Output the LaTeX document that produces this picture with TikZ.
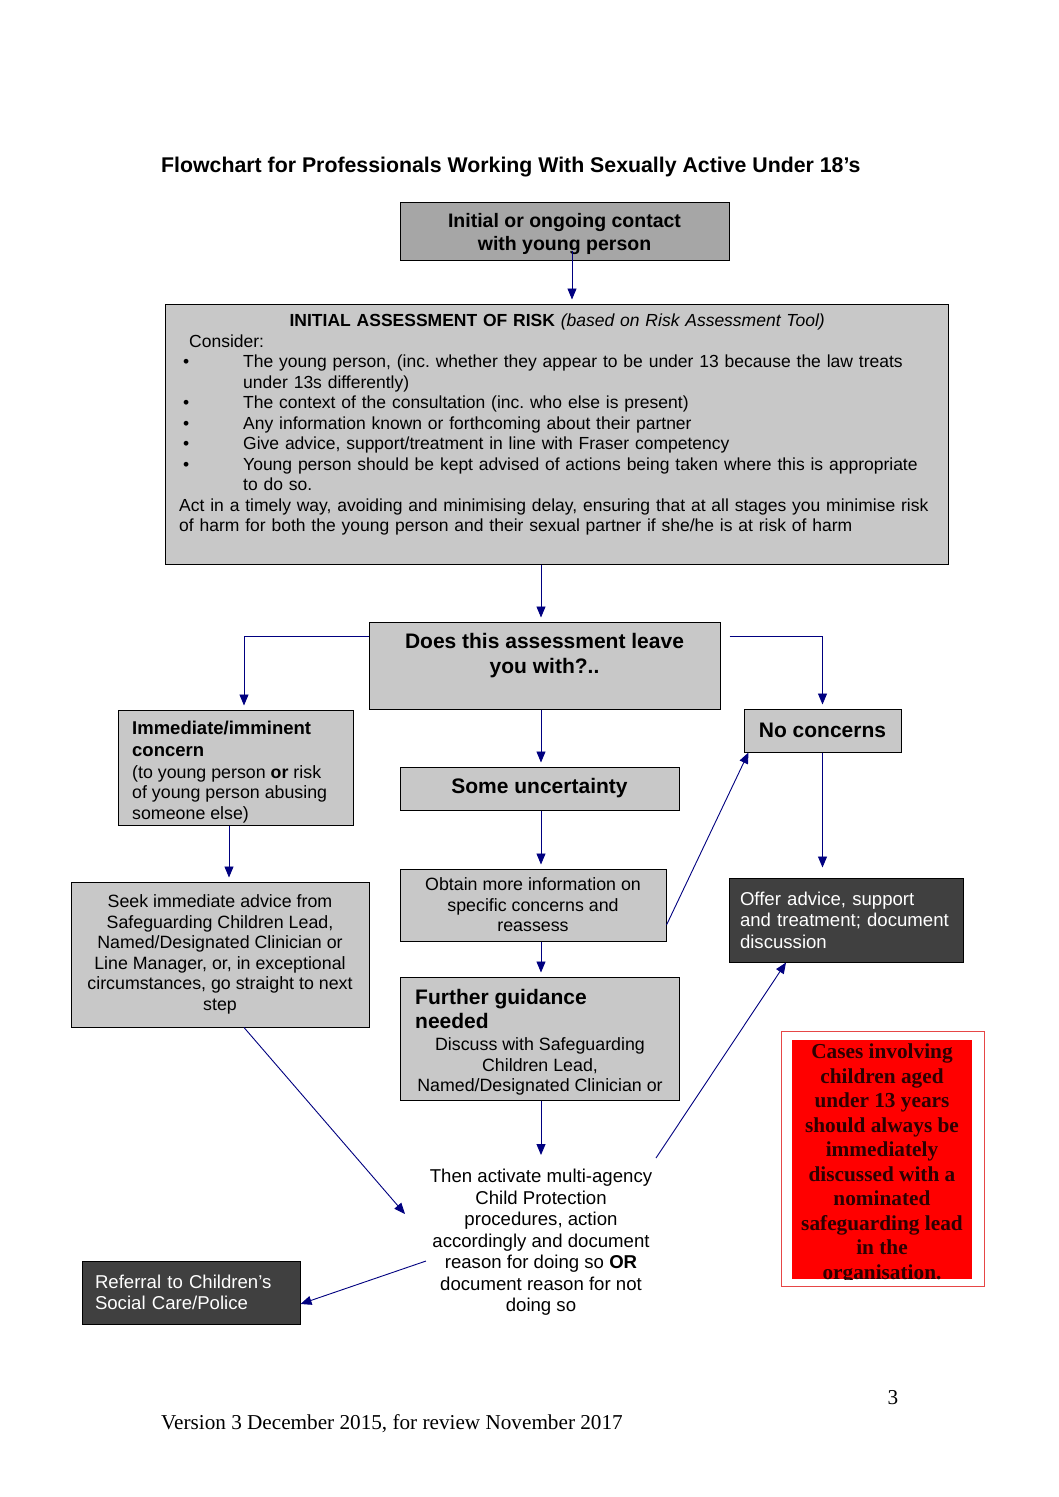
\documentclass[tikz,border=0pt]{standalone}
\usepackage{fontspec}
\setmainfont{Liberation Sans}
\newfontfamily\timesfont{Liberation Serif}
\usetikzlibrary{calc,positioning,arrows.meta}

\definecolor{boxgrey}{RGB}{200,200,200}
\definecolor{topgrey}{RGB}{166,166,166}
\definecolor{darkbox}{RGB}{64,64,64}
\definecolor{arrowblue}{RGB}{0,0,128}
\definecolor{alertred}{RGB}{255,0,0}
\definecolor{alertedge}{RGB}{230,70,70}
\definecolor{alerttext}{RGB}{45,0,0}

\newcommand{\bodysize}{\fontsize{17.8}{20.5}\selectfont}
\newcommand{\midsize}{\fontsize{18.6}{21.5}\selectfont}
\newcommand{\headsize}{\fontsize{21}{24.5}\selectfont\bfseries}
\frenchspacing

\begin{document}
\begin{tikzpicture}[x=1pt, y=-1pt, txt/.style={inner sep=0pt}, flow/.style={draw=arrowblue, line width=0.9pt, -{Triangle[width=9pt,length=11pt]}}]
\tikzstyle{greybox}=[draw, fill=boxgrey, line width=1pt, inner sep=0pt]
\tikzstyle{darkgrey}=[draw, fill=darkbox, line width=1pt, inner sep=0pt, text=white]
\useasboundingbox (0,0) rectangle (1058,1497);
\fill[white] (0,0) rectangle (1058,1497);

\node[txt, anchor=base west, font=\fontsize{21.3}{24}\selectfont\bfseries] (title) at (161,172) {Flowchart for Professionals Working With Sexually Active Under 18’s};

\node[greybox, fill=topgrey, minimum width=329pt, minimum height=58pt] (contact) at (564.5,231) {};
\node[txt, align=center, font=\fontsize{19.5}{23}\selectfont\bfseries] (contacttxt) at (564.5,233.5) {Initial or ongoing contact\\with young person};

\node[greybox, minimum width=783pt, minimum height=260pt] (assess) at (556.5,434) {};
\node[txt, anchor=north west, text width=770pt, align=left, font=\fontsize{17.5}{20.5}\selectfont] (assesstxt) at (179,314) {%
\makebox[756pt]{\textbf{INITIAL ASSESSMENT OF RISK} \textit{(based on Risk Assessment Tool)}}\\
\hspace*{10pt}Consider:\\
\makebox[64pt][l]{\hspace{4pt}\textbullet}The young person, (inc. whether they appear to be under 13 because the law treats\\
\hspace*{64pt}under 13s differently)\\
\makebox[64pt][l]{\hspace{4pt}\textbullet}The context of the consultation (inc. who else is present)\\
\makebox[64pt][l]{\hspace{4pt}\textbullet}Any information known or forthcoming about their partner\\
\makebox[64pt][l]{\hspace{4pt}\textbullet}Give advice, support/treatment in line with Fraser competency\\
\makebox[64pt][l]{\hspace{4pt}\textbullet}Young person should be kept advised of actions being taken where this is appropriate\\
\hspace*{64pt}to do so.\\
Act in a timely way, avoiding and minimising delay, ensuring that at all stages you minimise risk\\
of harm for both the young person and their sexual partner if she/he is at risk of harm};

\node[greybox, minimum width=351pt, minimum height=87pt] (query) at (544.5,665.5) {};
\node[txt, align=center, font=\headsize] (querytxt) at (544.5,655.5) {Does this assessment leave\\you with?..};

\node[greybox, minimum width=235pt, minimum height=115pt] (urgent) at (235.5,767.5) {};
\node[txt, anchor=north west, align=left, font=\fontsize{18.5}{22}\selectfont\bfseries] (urgenthead) at (132,721) {Immediate/imminent\\concern};
\node[txt, anchor=north west, align=left, font=\bodysize] (urgenttxt) at (132,765) {(to young person \textbf{or} risk\\of young person abusing\\someone else)};

\node[greybox, minimum width=157pt, minimum height=43pt, font=\headsize] (noworry) at (822.5,730.5) {No concerns};
\node[greybox, minimum width=279pt, minimum height=43pt, font=\headsize] (unsure) at (539.5,788.5) {Some uncertainty};
\node[greybox, minimum width=266pt, minimum height=72pt, align=center, font=\bodysize] (moreinfo) at (533,905) {Obtain more information on\\specific concerns and\\reassess};
\node[greybox, minimum width=298pt, minimum height=145pt, align=center, font=\bodysize] (seek) at (220,954.5) {Seek immediate advice from\\Safeguarding Children Lead,\\Named/Designated Clinician or\\Line Manager, or, in exceptional\\circumstances, go straight to next\\step};

\node[greybox, minimum width=279pt, minimum height=123pt] (guidance) at (539.5,1038.5) {};
\node[txt, anchor=north west, align=left, font=\headsize] (guidancehead) at (415,989) {Further guidance\\needed};
\node[txt, anchor=north, align=center, font=\bodysize] (guidancetxt) at (540,1037.5) {Discuss with Safeguarding\\Children Lead,\\Named/Designated Clinician or};

\node[txt, anchor=north, align=center, font=\midsize] (activate) at (541,1169) {Then activate multi-agency\\Child Protection\\procedures, action\\accordingly and document\\reason for doing so \textbf{OR}\\document reason for not\\doing so};

\node[darkgrey, minimum width=234pt, minimum height=84pt, text width=212pt, align=left, font=\midsize] (offer) at (846,920) {Offer advice, support\\and treatment; document\\discussion};
\node[darkgrey, minimum width=218pt, minimum height=63pt, text width=192pt, align=left, font=\midsize] (referral) at (191,1292.5) {Referral to Children’s\\Social Care/Police};

\node[draw=alertedge, line width=1pt, minimum width=203pt, minimum height=255pt] (alertframe) at (882.5,1158.5) {};
\fill[alertred] (792,1040) rectangle (972,1279);
\begin{scope}
\clip (792,1040) rectangle (972,1279);
\node[txt, anchor=north, align=center, text=alerttext, font=\timesfont\fontsize{21.3}{24.5}\selectfont\bfseries] (undertext) at (882,1044) {Cases involving\\children aged\\under 13 years\\should always be\\immediately\\discussed with a\\nominated\\safeguarding lead\\in the\\organisation.};
\end{scope}

\node[txt, anchor=base west, font=\timesfont\fontsize{21.2}{25}\selectfont] (version) at (161,1429) {Version 3 December 2015, for review November 2017};
\node[txt, anchor=base, font=\timesfont\fontsize{21.2}{25}\selectfont] (pagenum) at (893,1404) {3};

\coordinate (midline) at (541,0);
\coordinate (c1) at ([xshift=7.5pt,yshift=10pt]contact.south);
\coordinate (qleft) at ([yshift=29.5pt]query.west);
\coordinate (qright) at ([shift={(9pt,29.5pt)}]query.east);
\coordinate (u1) at ([xshift=-6.5pt]urgent.south);
\coordinate (seekend) at (405,1214);
\coordinate (actright) at (656,1158);
\coordinate (actleft) at (426,1261);

\draw[flow, shorten >=4pt] (c1) -- (c1 |- assess.north);
\foreach \i/\j in {assess/query,query/unsure,unsure/moreinfo,moreinfo/guidance}{\draw[flow, shorten >=4pt] (\i.south -| midline) -- (\j.north -| midline);}
\draw[flow, shorten >=4pt] (qleft) -| ([xshift=8.5pt]urgent.north);
\draw[flow, shorten >=4pt] (qright) -| (noworry.north);
\draw[flow] ([yshift=-20pt]moreinfo.east) -- ([xshift=5pt]noworry.south west);
\draw[flow, shorten >=10pt] (noworry.south) -- (noworry.south |- offer.north);
\draw[flow, shorten >=4pt] (u1) -- (u1 |- seek.north);
\draw[flow] ([xshift=24pt]seek.south) -- (seekend);
\draw[flow, shorten >=14pt] (guidance.south -| midline) -- (activate.north -| midline);
\draw[flow] (actright) -- ([xshift=-60pt]offer.south);
\draw[flow] (actleft) -- ([yshift=-11.5pt]referral.east);
\end{tikzpicture}
\end{document}
